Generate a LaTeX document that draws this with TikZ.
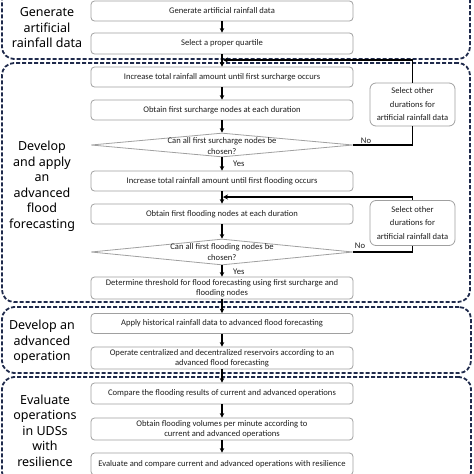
\documentclass[tikz,border=0pt]{standalone}
\usepackage{fontspec}
\setmainfont{Carlito}
\newfontfamily\labelfont{Noto Sans}
\usetikzlibrary{arrows.meta,shapes.geometric}
\definecolor{navy}{RGB}{31,42,76}
\definecolor{boxgray}{RGB}{160,160,160}
\definecolor{txt}{RGB}{30,30,30}
\begin{document}
\begin{tikzpicture}[x=1pt,y=-1pt,
  group/.style={draw=navy, line width=1.8pt, dash pattern=on 4pt off 2pt, rounded corners=12pt, inner sep=0pt},
  stepbox/.style={draw=boxgray, line width=0.8pt, rounded corners=3.5pt, minimum width=262pt, inner sep=1pt, align=center, text=txt, font=\fontsize{8.6}{10.5}\selectfont},
  sidebox/.style={draw=boxgray, line width=0.8pt, rounded corners=6pt, minimum width=85pt, inner sep=1pt, align=center, text=txt, font=\fontsize{8.6}{13.5}\selectfont},
  decision/.style={diamond, draw=boxgray, line width=0.8pt, minimum width=262pt, inner sep=0pt},
  dtext/.style={align=center, text=txt, font=\fontsize{8.6}{11}\selectfont, inner sep=0pt},
  lab/.style={align=center, font=\labelfont\fontsize{12.5}{15.5}\selectfont, inner sep=0pt},
  small/.style={text=txt, font=\fontsize{8.6}{9}\selectfont, inner sep=0pt},
  arr/.style={line width=1.1pt, -{Stealth[length=4.5pt,width=4.5pt]}},
  fb/.style={line width=1.5pt}
]
\useasboundingbox (0,0) rectangle (474,474);

% groups
\node[group, minimum width=468pt, minimum height=74pt] (g1) at (236,22) {};
\node[group, minimum width=468pt, minimum height=239pt] (g2) at (236,182.5) {};
\node[group, minimum width=469pt, minimum height=66pt] (g3) at (236.5,340) {};
\node[group, minimum width=469pt, minimum height=107pt] (g4) at (236.5,430.5) {};

% group labels
\node[lab] (l1) at (47,28) {Generate\\artificial\\rainfall data};
\node[lab] (l2) at (42,186) {Develop\\and apply\\an\\advanced\\flood\\forecasting};
\node[lab] (l3) at (42,342) {Develop an\\advanced\\operation};
\node[lab] (l4) at (45,430.5) {Evaluate\\operations\\in UDSs\\with\\resilience};

% main column
\node[stepbox, minimum height=20pt] (b1) at (222,11) {Generate artificial rainfall data};
\node[stepbox, minimum height=21pt] (b2) at (222,43.5) {Select a proper quartile};
\node[stepbox, minimum height=20pt] (b3) at (222,77) {Increase total rainfall amount until first surcharge occurs};
\node[stepbox, minimum height=20pt] (b4) at (222,110) {Obtain first surcharge nodes at each duration};
\node[decision, minimum height=24pt] (d1) at (222,145) {};
\node[dtext] (d1t) at (222,146.5) {Can all first surcharge nodes be\\chosen?};
\node[stepbox, minimum height=20pt] (b5) at (222,181) {Increase total rainfall amount until first flooding occurs};
\node[stepbox, minimum height=20pt] (b6) at (222,214) {Obtain first flooding nodes at each duration};
\node[decision, minimum height=26pt] (d2) at (222,252) {};
\node[dtext] (d2t) at (222,252.5) {Can all first flooding nodes be\\chosen?};
\node[stepbox, minimum height=22pt] (b7) at (222,288) {Determine threshold for flood forecasting using first surcharge and\\flooding nodes};
\node[stepbox, minimum height=20pt] (b8) at (222,323.5) {Apply historical rainfall data to advanced flood forecasting};
\node[stepbox, minimum height=22pt] (b9) at (222,358) {Operate centralized and decentralized reservoirs according to an\\advanced flood forecasting};
\node[stepbox, minimum height=21pt] (b10) at (222,393.5) {Compare the flooding results of current and advanced operations};
\node[stepbox, minimum height=22pt] (b11) at (222,429) {Obtain flooding volumes per minute according to\\current and advanced operations};
\node[stepbox, minimum height=22pt] (b12) at (222,464) {Evaluate and compare current and advanced operations with resilience};

% side boxes
\node[sidebox, minimum height=43pt] (s1) at (412.5,104.5) {Select other\\durations for\\artificial rainfall data};
\node[sidebox, minimum height=45pt] (s2) at (412.5,223) {Select other\\durations for\\artificial rainfall data};

% arrows
\draw[arr] (b1) -- (b2);
\draw[arr] (b2) -- (b3);
\draw[arr] (b3) -- (b4);
\draw[arr] (b4) -- (d1);
\draw[arr] (d1) -- (b5);
\draw[arr] (b5) -- (b6);
\draw[arr] (b6) -- (d2);
\draw[arr] (d2) -- (b7);
\draw[arr] (b7) -- (b8);
\draw[arr] (b8) -- (b9);
\draw[arr] (b9) -- (b10);
\draw[arr] (b10) -- (b11);
\draw[arr] (b11) -- (b12);

\node[small, anchor=west] (y1) at (233,163.5) {Yes};
\node[small, anchor=west] (y2) at (233,272) {Yes};

% feedback loops
\coordinate (j1) at (223,60);
\coordinate (j2) at (223,197);
\draw[fb] (d1.east) -| (s1.south);
\draw[fb, -{Stealth[length=5pt,width=5pt]}] (s1.north) |- (j1);
\draw[fb] (d2.east) -| (s2.south);
\draw[fb, -{Stealth[length=5pt,width=5pt]}] (s2.north) |- (j2);
\node[small] (n1) at (366,141) {No};
\node[small] (n2) at (360,246) {No};
\end{tikzpicture}
\end{document}
